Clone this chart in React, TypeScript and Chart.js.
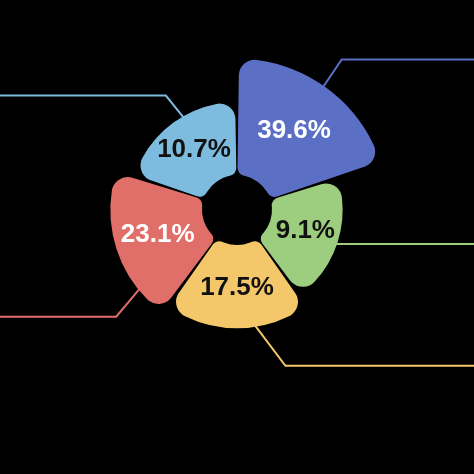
import React, { useEffect, useRef } from 'react';
import { Chart, registerables } from 'chart.js';

Chart.register(...registerables);

// ---- data ----
const categories = ['Segment A', 'Segment B', 'Segment C', 'Segment D', 'Segment E'];
const values = [39.6, 9.1, 17.5, 23.1, 10.7];
const colors = ['#5b6fc4', '#9dcd7e', '#f4c86a', '#e06e69', '#7dbcdf'];
const labelColors = ['#ffffff', '#111111', '#111111', '#ffffff', '#111111'];

// ---- layout / style ----
const RADIAL_MIN = -60;
const RADIAL_MAX = 40;
const HOLE = 33;
const LABEL_FRACTION = 0.55;
const FONT_SIZE = 26;
// leader lines: anchor offset from slice mid-angle (deg), elbow direction (deg clockwise from up), elbow length (px)
const leaders = [
  { anchor: -1, dir: 34, len: 33 },
  { anchor: 1, dir: 90, len: 0 },
  { anchor: -9, dir: 143, len: 50 },
  { anchor: -21, dir: 220, len: 36 },
  { anchor: 6, dir: 321, len: 28 },
];

const decorPlugin = {
  id: 'decor',
  beforeDatasetsDraw(chart: any) {
    const meta = chart.getDatasetMeta(0);
    meta.data.forEach((el: any) => {
      el.innerRadius = HOLE;
    });
  },
  afterDatasetsDraw(chart: any) {
    const ctx = chart.ctx as CanvasRenderingContext2D;
    const meta = chart.getDatasetMeta(0);
    meta.data.forEach((el: any, i: number) => {
      const { x, y, startAngle, endAngle, innerRadius, outerRadius } = el;
      const mid = (startAngle + endAngle) / 2;
      // leader line
      const L = leaders[i];
      const a = mid + (L.anchor * Math.PI) / 180;
      const ax = x + Math.cos(a) * (outerRadius + 1);
      const ay = y + Math.sin(a) * (outerRadius + 1);
      const d = ((L.dir - 90) * Math.PI) / 180;
      const ex = ax + Math.cos(d) * L.len;
      const ey = ay + Math.sin(d) * L.len;
      const edgeX = ex > x ? chart.width : 0;
      ctx.save();
      ctx.strokeStyle = colors[i];
      ctx.lineWidth = 2;
      ctx.lineJoin = 'miter';
      ctx.beginPath();
      ctx.moveTo(ax, ay);
      ctx.lineTo(ex, ey);
      ctx.lineTo(edgeX, ey);
      ctx.stroke();
      // value label
      const r = innerRadius + (outerRadius - innerRadius) * LABEL_FRACTION;
      const lx = x + Math.cos(mid) * r;
      const ly = y + Math.sin(mid) * r;
      ctx.fillStyle = labelColors[i];
      ctx.font = `bold ${FONT_SIZE}px "Liberation Sans", Arial, sans-serif`;
      ctx.textAlign = 'center';
      ctx.textBaseline = 'alphabetic';
      ctx.fillText(values[i].toFixed(1) + '%', lx, ly + FONT_SIZE * 0.24);
      ctx.restore();
    });
  },
};

export default function App() {
  const canvasRef = useRef<HTMLCanvasElement | null>(null);

  useEffect(() => {
    document.body.style.background = '#000';
    const canvas = canvasRef.current;
    if (!canvas) return;
    const chart = new Chart(canvas, {
      type: 'polarArea',
      data: {
        labels: categories,
        datasets: [
          {
            data: values,
            backgroundColor: colors,
            borderWidth: 0,
            borderRadius: { outerStart: 16, outerEnd: 16, innerStart: 8, innerEnd: 8 },
            spacing: 4,
          } as any,
        ],
      },
      options: {
        responsive: false,
        animation: false,
        layout: { padding: { left: 87, right: 87, top: 60, bottom: 114 } },
        plugins: {
          legend: { display: false },
          tooltip: { enabled: false },
        },
        scales: {
          r: {
            display: false,
            min: RADIAL_MIN,
            max: RADIAL_MAX,
            startAngle: 0,
            ticks: { display: false },
            grid: { display: false },
            angleLines: { display: false },
            pointLabels: { display: false },
          },
        },
      },
      plugins: [decorPlugin],
    });
    return () => chart.destroy();
  }, []);

  return (
    <div
      style={{
        position: 'fixed',
        left: 0,
        top: 0,
        width: 474,
        height: 474,
        background: '#000',
      }}
    >
      <canvas ref={canvasRef} width={474} height={474} style={{ display: 'block' }} />
    </div>
  );
}
